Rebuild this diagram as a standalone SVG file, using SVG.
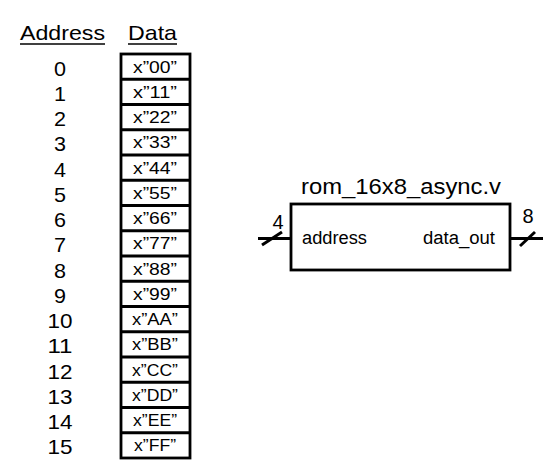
<svg xmlns="http://www.w3.org/2000/svg" width="550" height="466" viewBox="0 0 550 466">
<style>
text{font-family:"Liberation Sans",Arial,sans-serif;fill:#000}
.hdr{font-size:21px}
.addr{font-size:21px;text-anchor:middle}
.dat{font-size:17px;text-anchor:middle}
.box{fill:#fff;stroke:#000;stroke-width:2.8}
.div{stroke:#000;stroke-width:2.8}
.ul{stroke:#000;stroke-width:1.5}
.wire{stroke:#000;stroke-width:3;fill:none}
.lbl{font-size:18px}
.title{font-size:22px;text-anchor:middle}
.bus{font-size:20px;text-anchor:middle}
</style>
<rect width="550" height="466" fill="#fff"/>
<g id="headers">
<text class="hdr" x="20" y="40" textLength="85" lengthAdjust="spacingAndGlyphs">Address</text>
<line class="ul" x1="20" y1="44" x2="105" y2="44"/>
<text class="hdr" x="128" y="40" textLength="49" lengthAdjust="spacingAndGlyphs">Data</text>
<line class="ul" x1="128" y1="44" x2="177" y2="44"/>
</g>
<g id="addresses">
<text class="addr" x="60" y="75.5" textLength="12" lengthAdjust="spacingAndGlyphs">0</text>
<text class="addr" x="60" y="100.75" textLength="12" lengthAdjust="spacingAndGlyphs">1</text>
<text class="addr" x="60" y="126" textLength="12" lengthAdjust="spacingAndGlyphs">2</text>
<text class="addr" x="60" y="151.25" textLength="12" lengthAdjust="spacingAndGlyphs">3</text>
<text class="addr" x="60" y="176.5" textLength="12" lengthAdjust="spacingAndGlyphs">4</text>
<text class="addr" x="60" y="201.75" textLength="12" lengthAdjust="spacingAndGlyphs">5</text>
<text class="addr" x="60" y="227" textLength="12" lengthAdjust="spacingAndGlyphs">6</text>
<text class="addr" x="60" y="252.25" textLength="12" lengthAdjust="spacingAndGlyphs">7</text>
<text class="addr" x="60" y="277.5" textLength="12" lengthAdjust="spacingAndGlyphs">8</text>
<text class="addr" x="60" y="302.75" textLength="12" lengthAdjust="spacingAndGlyphs">9</text>
<text class="addr" x="60" y="328" textLength="25" lengthAdjust="spacingAndGlyphs">10</text>
<text class="addr" x="60" y="353.25" textLength="25" lengthAdjust="spacingAndGlyphs">11</text>
<text class="addr" x="60" y="378.5" textLength="25" lengthAdjust="spacingAndGlyphs">12</text>
<text class="addr" x="60" y="403.75" textLength="25" lengthAdjust="spacingAndGlyphs">13</text>
<text class="addr" x="60" y="429" textLength="25" lengthAdjust="spacingAndGlyphs">14</text>
<text class="addr" x="60" y="454.25" textLength="25" lengthAdjust="spacingAndGlyphs">15</text>
</g>
<g id="rom-table">
<rect class="box" x="121" y="54" width="69" height="404"/>
<line class="div" x1="121" y1="79.25" x2="190" y2="79.25"/>
<line class="div" x1="121" y1="104.5" x2="190" y2="104.5"/>
<line class="div" x1="121" y1="129.75" x2="190" y2="129.75"/>
<line class="div" x1="121" y1="155" x2="190" y2="155"/>
<line class="div" x1="121" y1="180.25" x2="190" y2="180.25"/>
<line class="div" x1="121" y1="205.5" x2="190" y2="205.5"/>
<line class="div" x1="121" y1="230.75" x2="190" y2="230.75"/>
<line class="div" x1="121" y1="256" x2="190" y2="256"/>
<line class="div" x1="121" y1="281.25" x2="190" y2="281.25"/>
<line class="div" x1="121" y1="306.5" x2="190" y2="306.5"/>
<line class="div" x1="121" y1="331.75" x2="190" y2="331.75"/>
<line class="div" x1="121" y1="357" x2="190" y2="357"/>
<line class="div" x1="121" y1="382.25" x2="190" y2="382.25"/>
<line class="div" x1="121" y1="407.5" x2="190" y2="407.5"/>
<line class="div" x1="121" y1="432.75" x2="190" y2="432.75"/>
<text class="dat" x="155" y="72.5" textLength="44" lengthAdjust="spacingAndGlyphs">x”00”</text>
<text class="dat" x="155" y="97.75" textLength="44" lengthAdjust="spacingAndGlyphs">x”11”</text>
<text class="dat" x="155" y="123" textLength="44" lengthAdjust="spacingAndGlyphs">x”22”</text>
<text class="dat" x="155" y="148.25" textLength="44" lengthAdjust="spacingAndGlyphs">x”33”</text>
<text class="dat" x="155" y="173.5" textLength="44" lengthAdjust="spacingAndGlyphs">x”44”</text>
<text class="dat" x="155" y="198.75" textLength="44" lengthAdjust="spacingAndGlyphs">x”55”</text>
<text class="dat" x="155" y="224" textLength="44" lengthAdjust="spacingAndGlyphs">x”66”</text>
<text class="dat" x="155" y="249.25" textLength="44" lengthAdjust="spacingAndGlyphs">x”77”</text>
<text class="dat" x="155" y="274.5" textLength="44" lengthAdjust="spacingAndGlyphs">x”88”</text>
<text class="dat" x="155" y="299.75" textLength="44" lengthAdjust="spacingAndGlyphs">x”99”</text>
<text class="dat" x="155" y="325" textLength="46" lengthAdjust="spacingAndGlyphs">x”AA”</text>
<text class="dat" x="155" y="350.25" textLength="46" lengthAdjust="spacingAndGlyphs">x”BB”</text>
<text class="dat" x="155" y="375.5" textLength="46" lengthAdjust="spacingAndGlyphs">x”CC”</text>
<text class="dat" x="155" y="400.75" textLength="46" lengthAdjust="spacingAndGlyphs">x”DD”</text>
<text class="dat" x="155" y="426" textLength="44" lengthAdjust="spacingAndGlyphs">x”EE”</text>
<text class="dat" x="155" y="451.25" textLength="42" lengthAdjust="spacingAndGlyphs">x”FF”</text>
</g>
<g id="rom-block">
<text class="title" x="401" y="194" textLength="200" lengthAdjust="spacingAndGlyphs">rom_16x8_async.v</text>
<rect class="box" x="291" y="204" width="219" height="66"/>
<text class="lbl" x="302" y="244" textLength="65" lengthAdjust="spacingAndGlyphs">address</text>
<text class="lbl" x="423" y="244" textLength="72" lengthAdjust="spacingAndGlyphs">data_out</text>
</g>
<g id="connectors">
<line class="wire" x1="258" y1="238.5" x2="291" y2="238.5"/>
<line class="wire" x1="262" y1="245" x2="282" y2="232"/>
<text class="bus" x="278" y="229">4</text>
<line class="wire" x1="510" y1="238.5" x2="543" y2="238.5"/>
<line class="wire" x1="520" y1="246" x2="535" y2="232"/>
<text class="bus" x="528" y="223">8</text>
</g>
</svg>
